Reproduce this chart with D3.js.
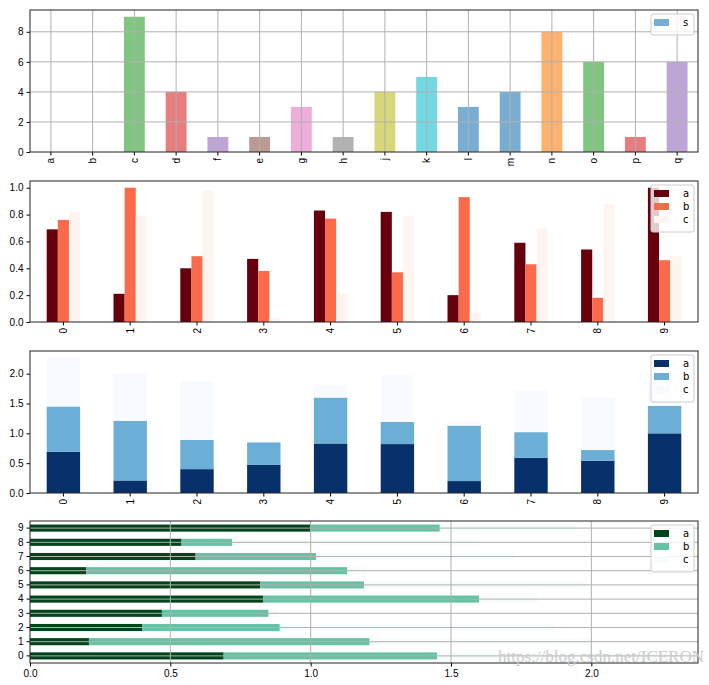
<!DOCTYPE html>
<html><head><meta charset="utf-8">
<script src="https://cdn.jsdelivr.net/npm/d3@7"></script>
<style>body{margin:0;background:#fff}svg{font-family:"DejaVu Sans",sans-serif;font-size:10px}</style>
</head><body><svg id="c" width="709" height="685"></svg>
<script>
const sCats = ["a","b","c","d","f","e","g","h","j","k","l","m","n","o","p","q"];
const sVals = [0,0,9,4,1,1,3,1,4,5,3,4,8,6,1,6];
const sColors = ["#1f77b4","#ff7f0e","#2ca02c","#d62728","#9467bd","#8c564b","#e377c2","#7f7f7f","#bcbd22","#17becf","#1f77b4","#1f77b4","#ff7f0e","#2ca02c","#d62728","#9467bd"];
const idx = ["0","1","2","3","4","5","6","7","8","9"];
const colA = [0.69,0.21,0.40,0.47,0.83,0.82,0.20,0.59,0.54,1.0];
const colB = [0.76,1.0,0.49,0.38,0.77,0.37,0.93,0.43,0.18,0.46];
const colC = [0.82,0.79,0.98,0.03,0.21,0.79,0.07,0.70,0.88,0.49];
const keys = ["a","b","c"];
const reds = ["#67000d","#fb6a4a","#fff5f0"];
const blues = ["#08306b","#6baed6","#f7fbff"];
const bugn = ["#00441b","#66c2a4","#f7fcfd"];
const cols = [colA, colB, colC];

const svg = d3.select("#c");
const L = 30, R = 698;
const panels = [[10,152],[181,322],[351,493],[521,663]];

function band(dom, range) {
  return d3.scaleBand().domain(dom).range(range).paddingInner(0.5).paddingOuter(0.25);
}
function frame(g, x0, y0, x1, y1) {
  g.append("rect").attr("x", x0).attr("y", y0).attr("width", x1 - x0).attr("height", y1 - y0)
    .attr("fill", "none").attr("stroke", "#222").attr("stroke-width", 1);
}
function legend(g, y0, labels, colors) {
  const h = 8 + labels.length * 13;
  const lg = g.append("g").attr("transform", `translate(${R - 47},${y0 + 4})`);
  lg.append("rect").attr("width", 43).attr("height", h).attr("rx", 2).attr("fill", "#fff").attr("fill-opacity", 0.8).attr("stroke", "#ccc");
  labels.forEach((t, i) => {
    lg.append("rect").attr("x", 3).attr("y", 5 + i * 13).attr("width", 15).attr("height", 7).attr("fill", colors[i]);
    lg.append("text").attr("x", 32).attr("y", 12 + i * 13).text(t);
  });
}
function xTicks(g, x, y1) {
  const ax = g.append("g").attr("transform", `translate(0,${y1})`).call(d3.axisBottom(x).tickSize(3.5));
  ax.select(".domain").remove();
  ax.selectAll("text").attr("transform", "rotate(-90)").attr("x", -6).attr("y", 0).attr("dy", "0.35em").style("text-anchor", "end");
}
function yAxis(g, y, ticks, fmt) {
  const ax = g.append("g").attr("transform", `translate(${L},0)`).call(d3.axisLeft(y).tickValues(ticks).tickFormat(fmt).tickSize(3.5));
  ax.select(".domain").remove();
}

// panel 1
{
  const [y0, y1] = panels[0];
  const g = svg.append("g");
  const x = band(sCats, [L, R]);
  const y = d3.scaleLinear().domain([0, 9.45]).range([y1, y0]);
  g.selectAll(".b").data(sVals).join("rect").attr("x", (d, i) => x(sCats[i])).attr("width", x.bandwidth())
    .attr("y", d => y(d)).attr("height", d => y1 - y(d)).attr("fill", (d, i) => sColors[i]).attr("fill-opacity", 0.6);
  sCats.forEach(c => g.append("line").attr("x1", x(c) + x.bandwidth() / 2).attr("x2", x(c) + x.bandwidth() / 2).attr("y1", y0).attr("y2", y1).attr("stroke", "#b0b0b0"));
  [2,4,6,8].forEach(v => g.append("line").attr("x1", L).attr("x2", R).attr("y1", y(v)).attr("y2", y(v)).attr("stroke", "#b0b0b0"));
  yAxis(g, y, [0,2,4,6,8], d3.format("d"));
  xTicks(g, x, y1);
  frame(g, L, y0, R, y1);
  legend(g, y0, ["s"], ["rgba(31,119,180,0.6)"]);
}
// panel 2
{
  const [y0, y1] = panels[1];
  const g = svg.append("g");
  const x = band(idx, [L, R]);
  const xs = d3.scaleBand().domain(keys).range([0, x.bandwidth()]);
  const y = d3.scaleLinear().domain([0, 1.05]).range([y1, y0]);
  keys.forEach((k, j) => {
    g.selectAll(".b" + k).data(cols[j]).join("rect").attr("x", (d, i) => x(idx[i]) + xs(k)).attr("width", xs.bandwidth())
      .attr("y", d => y(d)).attr("height", d => y1 - y(d)).attr("fill", reds[j]);
  });
  yAxis(g, y, [0,0.2,0.4,0.6,0.8,1.0], d3.format(".1f"));
  xTicks(g, x, y1);
  frame(g, L, y0, R, y1);
  legend(g, y0, keys, reds);
}
// panel 3
{
  const [y0, y1] = panels[2];
  const g = svg.append("g");
  const x = band(idx, [L, R]);
  const y = d3.scaleLinear().domain([0, 2.38]).range([y1, y0]);
  const rows = idx.map((k, i) => ({a: colA[i], b: colB[i], c: colC[i]}));
  const st = d3.stack().keys(keys)(rows);
  st.forEach((s, j) => {
    g.selectAll(".s" + j).data(s).join("rect").attr("x", (d, i) => x(idx[i])).attr("width", x.bandwidth())
      .attr("y", d => y(d[1])).attr("height", d => y(d[0]) - y(d[1])).attr("fill", blues[j]);
  });
  yAxis(g, y, [0,0.5,1,1.5,2], d3.format(".1f"));
  xTicks(g, x, y1);
  frame(g, L, y0, R, y1);
  legend(g, y0, keys, blues);
}
// panel 4
{
  const [y0, y1] = panels[3];
  const g = svg.append("g");
  const y = band(idx, [y1, y0]);
  const x = d3.scaleLinear().domain([0, 2.38]).range([L, R]);
  const rows = idx.map((k, i) => ({a: colA[i], b: colB[i], c: colC[i]}));
  const st = d3.stack().keys(keys)(rows);
  st.forEach((s, j) => {
    g.selectAll(".h" + j).data(s).join("rect").attr("y", (d, i) => y(idx[i])).attr("height", y.bandwidth())
      .attr("x", d => x(d[0])).attr("width", d => x(d[1]) - x(d[0])).attr("fill", bugn[j]);
  });
  [0.5,1,1.5,2].forEach(v => g.append("line").attr("x1", x(v)).attr("x2", x(v)).attr("y1", y0).attr("y2", y1).attr("stroke", "#b0b0b0"));
  idx.forEach(k => g.append("line").attr("x1", L).attr("x2", R).attr("y1", y(k) + y.bandwidth() / 2).attr("y2", y(k) + y.bandwidth() / 2).attr("stroke", "#b0b0b0"));
  const ay = g.append("g").attr("transform", `translate(${L},0)`).call(d3.axisLeft(y).tickSize(3.5));
  ay.select(".domain").remove();
  const ax = g.append("g").attr("transform", `translate(0,${y1})`).call(d3.axisBottom(x).tickValues([0,0.5,1,1.5,2]).tickFormat(d3.format(".1f")).tickSize(3.5));
  ax.select(".domain").remove();
  frame(g, L, y0, R, y1);
  legend(g, y0, keys, bugn);
  g.append("text").attr("x", 704).attr("y", 662).attr("text-anchor", "end").attr("fill", "#ccc")
    .attr("font-family", "Liberation Serif, serif").attr("font-size", 17).text("https://blog.csdn.net/ICERON");
}
</script></body></html>
